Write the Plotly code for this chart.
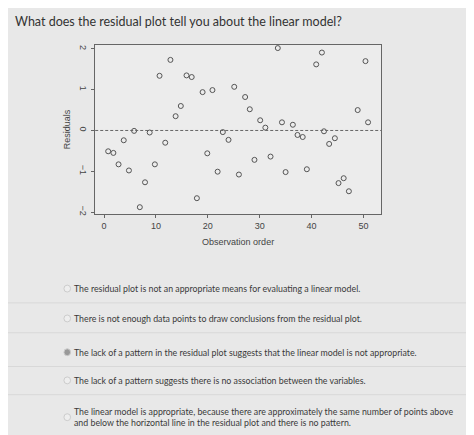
import plotly.graph_objects as go

obs = [0.8, 1.8, 2.8, 3.8, 4.8, 5.8, 6.9, 7.9, 8.8, 9.8, 10.7, 11.8, 12.8, 13.8, 14.8,
       15.9, 16.9, 17.9, 19.0, 19.9, 20.9, 21.9, 22.9, 24.0, 25.1, 26.0, 27.2, 28.1,
       29.0, 30.1, 31.1, 32.1, 33.5, 34.3, 35.0, 36.4, 37.3, 38.3, 39.1, 40.9, 42.0,
       42.4, 43.4, 44.5, 45.2, 46.2, 47.2, 48.9, 50.4, 50.9]
resid = [-0.51, -0.55, -0.83, -0.24, -0.98, -0.01, -1.88, -1.27, -0.05, -0.83, 1.34,
         -0.3, 1.73, 0.35, 0.6, 1.35, 1.31, -1.66, 0.94, -0.56, 0.99, -1.01, -0.04,
         -0.23, 1.07, -1.08, 0.82, 0.52, -0.72, 0.25, 0.07, -0.64, 2.02, 0.2, -1.02,
         0.14, -0.11, -0.16, -0.95, 1.62, 1.91, -0.02, -0.33, -0.19, -1.29, -1.17,
         -1.49, 0.5, 1.7, 0.2]

question = "What does the residual plot tell you about the linear model?"
options = [
    "The residual plot is not an appropriate means for evaluating a linear model.",
    "There is not enough data points to draw conclusions from the residual plot.",
    "The lack of a pattern in the residual plot suggests that the linear model is not appropriate.",
    "The lack of a pattern suggests there is no association between the variables.",
    "The linear model is appropriate, because there are approximately the same number of points above<br>and below the horizontal line in the residual plot and there is no pattern.",
]
option_y = [0.352, 0.283, 0.205, 0.14, 0.055]

fig = go.Figure(go.Scatter(
    x=obs, y=resid, mode="markers",
    marker=dict(symbol="circle-open", size=5, color="#555555", line=dict(width=1)),
))
fig.add_hline(y=0, line=dict(color="#666666", width=1, dash="3px,2px"))

fig.update_layout(
    width=474, height=435,
    margin=dict(l=0, r=0, t=0, b=0),
    paper_bgcolor="#e8e8e8",
    plot_bgcolor="#ececec",
    showlegend=False,
    font=dict(family="Liberation Sans", size=9, color="#444444"),
)
fig.update_xaxes(
    domain=[0.184, 0.787], range=[-1.7, 53.4],
    tickvals=[0, 10, 20, 30, 40, 50], ticks="outside", ticklen=3, tickcolor="#666666",
    showgrid=False, zeroline=False, showline=True, mirror=True, linecolor="#666666",
    title=dict(text="Observation order", font=dict(size=9), standoff=8),
)
fig.update_yaxes(
    domain=[0.524, 0.915], range=[-2.05, 2.1],
    tickvals=[-2, -1, 0, 1, 2], tickangle=90, ticks="outside", ticklen=3, tickcolor="#666666",
    showgrid=False, zeroline=False, showline=True, mirror=True, linecolor="#666666",
    title=dict(text="Residuals", font=dict(size=9), standoff=6),
)

fig.add_annotation(x=0.01, y=0.99, xref="paper", yref="paper", xanchor="left", yanchor="top",
                   text=question, showarrow=False,
                   font=dict(family="Lato", size=12.5, color="#333333"))
for i, (txt, yy) in enumerate(zip(options, option_y)):
    fig.add_annotation(x=0.135, y=yy, xref="paper", yref="paper", xanchor="left", yanchor="middle",
                       text=txt, showarrow=False, align="left",
                       font=dict(family="Lato", size=8.8, color="#3a3a3a"))
    fig.add_shape(type="circle", xref="paper", yref="paper",
                  x0=0.118, x1=0.132, y0=yy - 0.008, y1=yy + 0.008,
                  line=dict(color="#cccccc", width=1),
                  fillcolor="#999999" if i == 2 else "#eeeeee")
    if i < 4:
        fig.add_shape(type="line", xref="paper", yref="paper", x0=0.0, x1=1.0,
                      y0=yy - 0.033, y1=yy - 0.033, line=dict(color="#d8d8d8", width=1))

fig.write_html("out.html")
